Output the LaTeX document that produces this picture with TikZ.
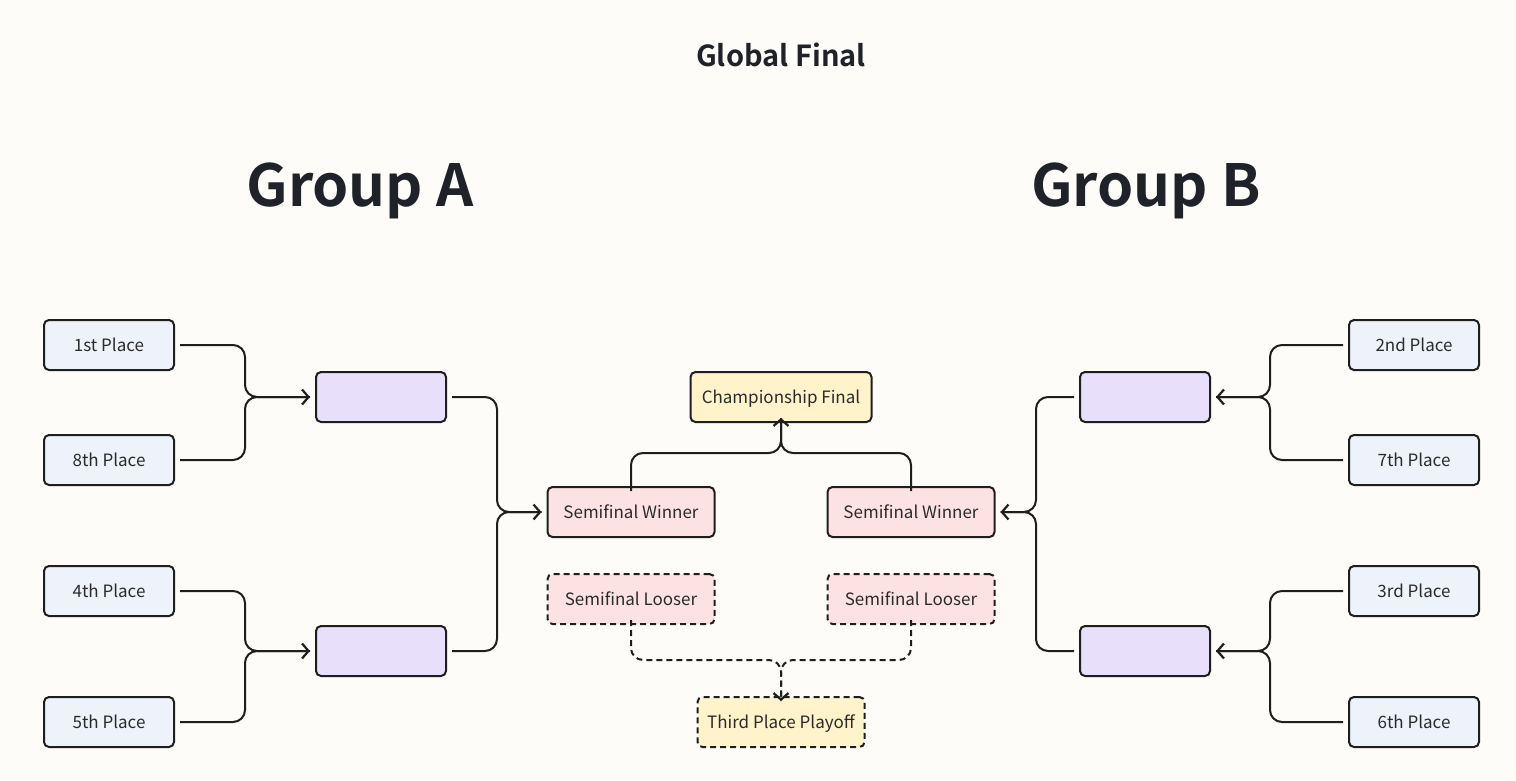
\documentclass[tikz,border=0pt]{standalone}
\usepackage{fontspec}
\setmainfont{Noto Sans CJK SC}[BoldFont={Noto Sans CJK SC Bold}]
\usetikzlibrary{arrows.meta}
\definecolor{bg}{HTML}{FEFCF8}
\definecolor{ink}{HTML}{1E1E1E}
\definecolor{txt}{HTML}{2B2B2B}
\definecolor{ttl}{HTML}{1F2329}
\definecolor{placefill}{HTML}{EEF2FB}
\definecolor{purfill}{HTML}{E8E0FA}
\definecolor{pinkfill}{HTML}{FDE2E3}
\definecolor{yelfill}{HTML}{FEF3CA}
\tikzset{
  box/.style={draw=ink, line width=2pt, rounded corners=5pt, text=txt,
    font=\fontsize{17}{18}\selectfont, inner sep=0pt, minimum height=50pt,
    text height=13.5pt, text depth=0pt},
  placebox/.style={box, fill=placefill, minimum width=130pt},
  purbox/.style={box, fill=purfill, minimum width=130pt},
  semibox/.style={box, fill=pinkfill, minimum width=167pt},
  loosebox/.style={semibox, dash pattern=on 6pt off 4pt},
  champbox/.style={box, fill=yelfill, minimum width=181pt},
  thirdbox/.style={box, fill=yelfill, minimum width=167pt, dash pattern=on 6pt off 4pt},
  link/.style={draw=ink, line width=2pt, rounded corners=12pt, line join=round},
  arr/.style={link, -{Straight Barb[length=6.5pt,width=15pt,line width=2.2pt]}},
  dlink/.style={link, dash pattern=on 6pt off 4pt},
  darr/.style={arr, dash pattern=on 6pt off 4pt},
  bigtitle/.style={font=\bfseries\fontsize{58}{62}\selectfont, text=ttl},
  smalltitle/.style={font=\bfseries\fontsize{29}{32}\selectfont, text=ttl},
}
\begin{document}
\begin{tikzpicture}[x=1pt,y=-1pt]
\fill[bg] (0,0) rectangle (1516,780);
\useasboundingbox (0,0) rectangle (1516,780);

\node[smalltitle] (title) at (781,55) {Global Final};
\node[bigtitle] (ga) at (360,191) {Group A};
\node[bigtitle] (gb) at (1146,191) {Group B};

% Group A
\node[placebox] (p1) at (109,345) {1st Place};
\node[placebox] (p8) at (109,460) {8th Place};
\node[placebox] (p4) at (109,591) {4th Place};
\node[placebox] (p5) at (109,722) {5th Place};
\node[purbox] (a1) at (381,397) {};
\node[purbox] (a2) at (381,651) {};

% Group B
\node[placebox] (p2) at (1414,345) {2nd Place};
\node[placebox] (p7) at (1414,460) {7th Place};
\node[placebox] (p3) at (1414,591) {3rd Place};
\node[placebox] (p6) at (1414,722) {6th Place};
\node[purbox] (b1) at (1145,397) {};
\node[purbox] (b2) at (1145,651) {};

% Centre
\node[champbox] (cf) at (781,397) {Championship Final};
\node[semibox] (swa) at (631,512) {Semifinal Winner};
\node[semibox] (swb) at (911,512) {Semifinal Winner};
\node[loosebox] (sla) at (631,599) {Semifinal Looser};
\node[loosebox] (slb) at (911,599) {Semifinal Looser};
\node[thirdbox] (tp) at (781,722) {Third Place Playoff};

% Group A connectors
\draw[link] ([xshift=5pt]p1.east) -| (245,397) -- ([xshift=-5pt]a1.west);
\draw[arr] ([xshift=5pt]p8.east) -| (245,397) -- ([xshift=-5pt]a1.west);
\draw[link] ([xshift=5pt]p4.east) -| (245,651) -- ([xshift=-5pt]a2.west);
\draw[arr] ([xshift=5pt]p5.east) -| (245,651) -- ([xshift=-5pt]a2.west);
\draw[link] ([xshift=5pt]a1.east) -| (497,512) -- ([xshift=-5pt]swa.west);
\draw[arr] ([xshift=5pt]a2.east) -| (497,512) -- ([xshift=-5pt]swa.west);

% Group B connectors
\draw[link] ([xshift=-5pt]p2.west) -| (1270,397) -- ([xshift=5pt]b1.east);
\draw[arr] ([xshift=-5pt]p7.west) -| (1270,397) -- ([xshift=5pt]b1.east);
\draw[link] ([xshift=-5pt]p3.west) -| (1270,651) -- ([xshift=5pt]b2.east);
\draw[arr] ([xshift=-5pt]p6.west) -| (1270,651) -- ([xshift=5pt]b2.east);
\draw[link] ([xshift=-5pt]b1.west) -| (1036,512) -- ([xshift=5pt]swb.east);
\draw[arr] ([xshift=-5pt]b2.west) -| (1036,512) -- ([xshift=5pt]swb.east);

% Final connectors
\draw[link] ([yshift=-5pt]swa.north) |- (781,453) -- ([yshift=5pt]cf.south);
\draw[arr] ([yshift=-5pt]swb.north) |- (781,453) -- ([yshift=5pt]cf.south);
\draw[dlink] ([yshift=5pt]sla.south) |- (781,660) -- ([yshift=-5pt]tp.north);
\draw[darr] ([yshift=5pt]slb.south) |- (781,660) -- ([yshift=-5pt]tp.north);
\end{tikzpicture}
\end{document}
